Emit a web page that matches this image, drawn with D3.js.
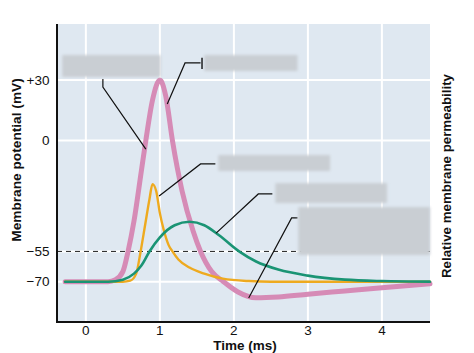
<!DOCTYPE html>
<html>
<head>
<meta charset="utf-8">
<script src="https://cdn.jsdelivr.net/npm/d3@7"></script>
<style>
  body { margin: 0; background: #fff; }
  svg { display: block; font-family: "Liberation Sans", Arial, sans-serif; }
</style>
</head>
<body>
<div id="chart"></div>
<script>
// Time axis (ms)
const xTicks = [0, 1, 2, 3, 4];
const yTicks = [30, 0, -55, -70];
const yTickLabels = ['+30', '0', '\u221255', '\u221270'];
const threshold = -55;

// Membrane potential (mV)
const potentialT = [-0.28, 0.3, 0.4, 0.5, 0.57, 0.65, 0.75, 0.81, 0.9, 1.0, 1.08, 1.17, 1.3, 1.45, 1.55, 1.7, 1.86, 2.05, 2.3, 2.6, 3.0, 3.5, 4.0, 4.65];
const potentialV = [-70, -70, -69, -65, -55, -40, -15, 0, 20, 30, 22, 0, -25, -45, -55, -65, -70, -75, -78, -77.6, -76.2, -74.6, -73, -71];

// Na+ permeability (drawn on the same scale)
const naT = [-0.28, 0.5, 0.6, 0.68, 0.74, 0.8, 0.86, 0.9, 0.95, 1.0, 1.05, 1.12, 1.17, 1.25, 1.4, 1.6, 1.85, 2.2, 2.5, 4.65];
const naV = [-70, -70, -69.5, -66, -55, -42, -29, -21.6, -25, -36, -44, -52, -55, -59, -63, -66, -68.5, -69.7, -70, -70];

// K+ permeability
const kT = [-0.28, 0.3, 0.5, 0.65, 0.75, 0.86, 1.0, 1.2, 1.4, 1.6, 1.8, 2.07, 2.3, 2.6, 3.0, 3.5, 4.0, 4.65];
const kV = [-70, -70, -69, -66, -62, -55, -48, -42, -40.3, -42, -47, -55, -60, -64, -67, -69, -69.7, -70];

// Hidden label boxes [t0, t1, vTop, vBottom] and leader paths [[t, mV], ...]
const labelBoxes = [
    [-0.32, 1.01, 42.4, 31.5],
    [1.60, 2.86, 42.4, 34.5],
    [1.79, 3.30, -7.2, -15.1],
    [2.56, 4.07, -21.1, -31.0],
    [2.87, 4.65, -33.0, -56.8]
];
const leaders = [
    [[0.23, 30.5], [0.23, 26.5], [0.81, -4.3]],
    [[1.55, 38.5], [1.34, 38.5], [1.10, 18.1]],
    [[1.75, -11.6], [1.55, -11.6], [0.99, -27.5]],
    [[2.52, -26.5], [2.33, -26.5], [1.76, -45.9]],
    [[2.86, -38.4], [2.78, -38.4], [2.20, -78.1]]
];

const width = 474, height = 353;
const plot = { left: 57, right: 430, top: 24, bottom: 322 };

const svg = d3.select('#chart')
    .append('svg')
    .attr('width', width)
    .attr('height', height);

const defs = svg.append('defs');
defs.append('filter')
    .attr('id', 'soft')
    .attr('x', '-10%').attr('y', '-30%')
    .attr('width', '120%').attr('height', '160%')
    .append('feGaussianBlur')
    .attr('stdDeviation', 1.8);

const x = d3.scaleLinear().domain([-0.39, 4.65]).range([plot.left, plot.right]);
const y = d3.scaleLinear().domain([-90, 57.8]).range([plot.bottom, plot.top]);

// Plot background
svg.append('rect')
    .attr('x', plot.left)
    .attr('y', plot.top)
    .attr('width', plot.right - plot.left)
    .attr('height', plot.bottom - plot.top)
    .attr('fill', '#dfe8f1');

// White grid
svg.append('g')
    .selectAll('line')
    .data(xTicks)
    .join('line')
    .attr('x1', d => x(d)).attr('x2', d => x(d))
    .attr('y1', plot.top).attr('y2', plot.bottom)
    .attr('stroke', '#fff')
    .attr('stroke-width', 2);

svg.append('g')
    .selectAll('line')
    .data(yTicks)
    .join('line')
    .attr('x1', plot.left).attr('x2', plot.right)
    .attr('y1', d => y(d)).attr('y2', d => y(d))
    .attr('stroke', '#fff')
    .attr('stroke-width', 2);

// Threshold dashed line
svg.append('line')
    .attr('x1', plot.left).attr('x2', plot.right)
    .attr('y1', y(threshold)).attr('y2', y(threshold))
    .attr('stroke', '#222')
    .attr('stroke-width', 1)
    .attr('stroke-dasharray', '5,4');

// Curves
const line = d3.line()
    .x(d => x(d[0]))
    .y(d => y(d[1]))
    .curve(d3.curveMonotoneX);

const series = [
    { t: potentialT, v: potentialV, color: '#d68bb6', w: 5 },
    { t: naT, v: naV, color: '#eeaa1f', w: 2.4 },
    { t: kT, v: kV, color: '#1a9474', w: 2.6 }
];

series.forEach(s => {
    svg.append('path')
        .datum(d3.zip(s.t, s.v))
        .attr('d', line)
        .attr('fill', 'none')
        .attr('stroke', s.color)
        .attr('stroke-width', s.w)
        .attr('stroke-linejoin', 'round')
        .attr('stroke-linecap', 'round');
});

// Leader lines
svg.append('g')
    .selectAll('path')
    .data(leaders)
    .join('path')
    .attr('d', d => d3.line().x(p => x(p[0])).y(p => y(p[1]))(d))
    .attr('fill', 'none')
    .attr('stroke', '#111')
    .attr('stroke-width', 1.2);

// small tick in front of box 2
svg.append('line')
    .attr('x1', x(1.57)).attr('x2', x(1.57))
    .attr('y1', y(41)).attr('y2', y(35.5))
    .attr('stroke', '#111')
    .attr('stroke-width', 1.5);

// Blurred label boxes
svg.append('g')
    .selectAll('rect')
    .data(labelBoxes)
    .join('rect')
    .attr('x', d => x(d[0]))
    .attr('y', d => y(d[2]))
    .attr('width', d => x(d[1]) - x(d[0]))
    .attr('height', d => y(d[3]) - y(d[2]))
    .attr('fill', '#c9ced3')
    .attr('filter', 'url(#soft)');

// Axes lines
svg.append('line')
    .attr('x1', plot.left).attr('x2', plot.left)
    .attr('y1', plot.top).attr('y2', plot.bottom)
    .attr('stroke', '#111').attr('stroke-width', 2);

svg.append('line')
    .attr('x1', plot.left - 1).attr('x2', plot.right)
    .attr('y1', plot.bottom).attr('y2', plot.bottom)
    .attr('stroke', '#111').attr('stroke-width', 2);

// Tick labels
svg.append('g')
    .selectAll('text')
    .data(xTicks)
    .join('text')
    .attr('x', d => x(d))
    .attr('y', 335)
    .attr('text-anchor', 'middle')
    .style('font-size', '13.5px')
    .attr('fill', '#111')
    .text(d => d);

svg.append('g')
    .selectAll('text')
    .data(yTicks)
    .join('text')
    .attr('x', 49.5)
    .attr('y', d => y(d))
    .attr('dy', '0.35em')
    .attr('text-anchor', 'end')
    .style('font-size', '13.5px')
    .attr('fill', '#111')
    .text((d, i) => yTickLabels[i]);

// Axis titles
svg.append('text')
    .attr('x', 245)
    .attr('y', 350)
    .attr('text-anchor', 'middle')
    .style('font-size', '13.5px')
    .style('font-weight', 'bold')
    .attr('fill', '#111')
    .text('Time (ms)');

svg.append('text')
    .attr('transform', 'translate(21,160) rotate(-90)')
    .attr('text-anchor', 'middle')
    .style('font-size', '13.7px')
    .style('font-weight', 'bold')
    .attr('fill', '#111')
    .text('Membrane potential (mV)');

svg.append('text')
    .attr('transform', 'translate(451,176) rotate(-90)')
    .attr('text-anchor', 'middle')
    .style('font-size', '13.3px')
    .style('font-weight', 'bold')
    .attr('fill', '#111')
    .text('Relative membrane permeability');
</script>
</body>
</html>
